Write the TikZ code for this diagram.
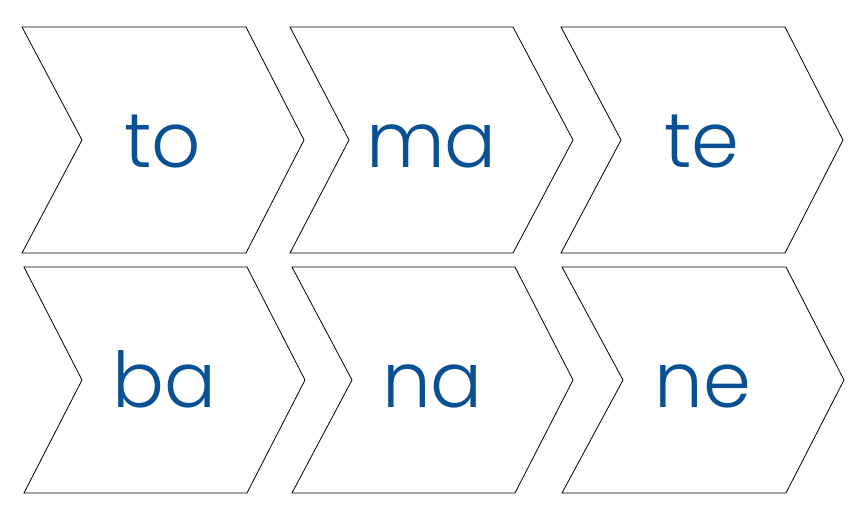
\documentclass[tikz,border=0pt]{standalone}
\usepackage{fontspec}
\setmainfont{Poppins}[UprightFont=* Light]
\definecolor{syl}{HTML}{0A5094}
\tikzset{
  chevbox/.style={draw=black, line width=0.8pt, fill=white, line join=miter},
  sylltext/.style={text=syl, anchor=base, inner sep=0pt, font=\fontsize{77}{80}\selectfont}
}
% #1 name, #2 L, #3 R, #4 T, #5 N, #6 top, #7 bottom, #8 text
\newcommand\mychev[8]{%
  \pgfmathsetmacro\midy{(#6+#7)/2}%
  \pgfmathsetmacro\cx{(#2+#4)/2}%
  \draw[chevbox] (#2,-#6) -- (#3,-#6) -- (#4,-\midy) -- (#3,-#7) -- (#2,-#7) -- (#5,-\midy) -- cycle;
  \node[sylltext] (#1) at (\cx,-\midy-27) {#8};
}
\begin{document}
\begin{tikzpicture}[x=1pt,y=1pt]
\useasboundingbox (0,0) rectangle (860,-507);
\fill[white] (0,0) rectangle (860,-507);
\mychev{c1}{22}{246}{304}{82}{27}{253}{to}
\mychev{c2}{290}{513}{573}{349}{27}{253}{ma}
\mychev{c3}{561}{785}{843}{621}{27}{253}{te}
\mychev{c4}{24}{247}{305}{82}{267}{493}{ba}
\mychev{c5}{292}{515}{573}{352}{267}{493}{na}
\mychev{c6}{562}{786}{844}{623}{267}{493}{ne}
\end{tikzpicture}
\end{document}
